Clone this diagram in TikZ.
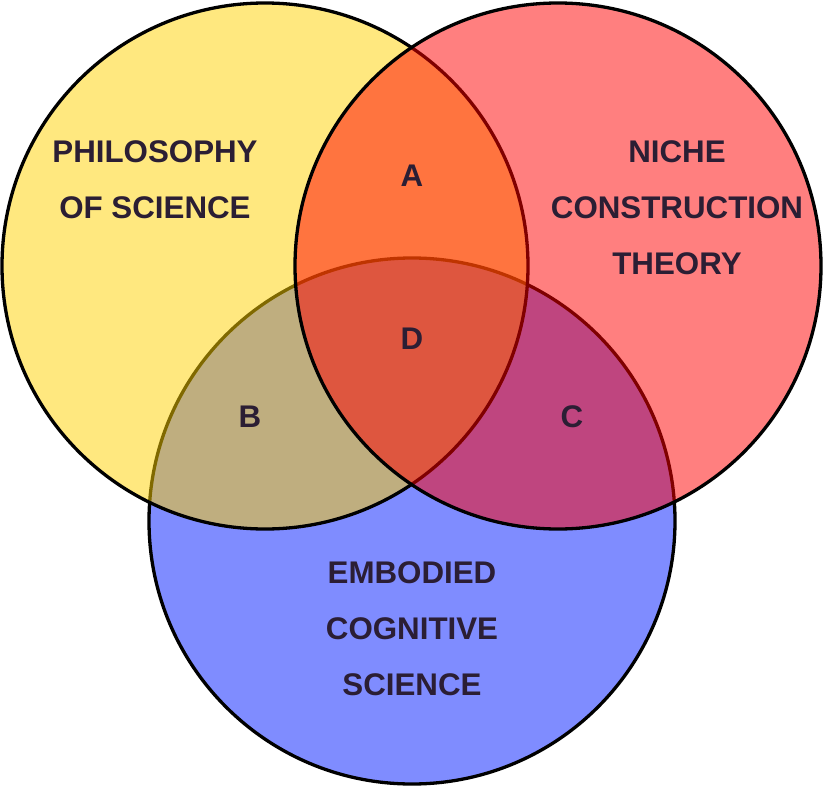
\documentclass[tikz,border=0pt]{standalone}
\usepackage{fontspec}
\setmainfont{Liberation Sans}
\definecolor{vyellow}{RGB}{255,210,0}
\definecolor{vred}{RGB}{255,0,0}
\definecolor{vblue}{RGB}{0,25,255}
\definecolor{vtext}{RGB}{43,30,52}
\tikzset{
  setcircle/.style={draw=black, line width=3.3pt, fill opacity=0.5},
  biglabel/.style={text=vtext, font=\fontsize{31.3}{56}\selectfont\bfseries, align=center, inner sep=0pt},
  letterlabel/.style={text=vtext, font=\fontsize{31.3}{36}\selectfont\bfseries, inner sep=0pt}
}
\begin{document}
\begin{tikzpicture}[x=1pt,y=-1pt]
\useasboundingbox (0,0) rectangle (825,787);
\coordinate (cb) at (412,521);
\coordinate (cy) at (265,266);
\coordinate (cr) at (558,266);
\draw[setcircle, fill=vblue] (cb) circle[radius=263];
\draw[setcircle, fill=vyellow] (cy) circle[radius=263];
\draw[setcircle, fill=vred] (cr) circle[radius=263];
\node[biglabel] (phil) at (155,180) {PHILOSOPHY\\OF SCIENCE};
\node[biglabel] (niche) at (677,208) {NICHE\\CONSTRUCTION\\THEORY};
\node[biglabel] (emb) at (412,629) {EMBODIED\\COGNITIVE\\SCIENCE};
\node[letterlabel] (A) at (412,176) {A};
\node[letterlabel] (D) at (412,339) {D};
\node[letterlabel] (B) at (250,417) {B};
\node[letterlabel] (C) at (572,417) {C};
\end{tikzpicture}
\end{document}
